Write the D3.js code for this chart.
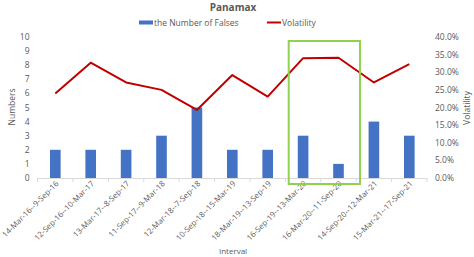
<!DOCTYPE html>
<html><head><meta charset="utf-8">
<script src="https://cdn.jsdelivr.net/npm/d3@7"></script>
<style>body{margin:0;background:#fff;}svg{display:block;font-family:"Open Sans","Noto Sans",sans-serif;}</style>
</head><body><svg id="c" width="474" height="257"></svg>
<script>
const categories = ["14-Mar-16--9-Sep-16","12-Sep-16--10-Mar-17","13-Mar-17--8-Sep-17","11-Sep-17--9-Mar-18","12-Mar-18--7-Sep-18","10-Sep-18--15-Mar-19","18-Mar-19--13-Sep-19","16-Sep-19--13-Mar-20","16-Mar-20--11-Sep-20","14-Sep-20--12-Mar-21","15-Mar-21--17-Sep-21"];
const falses = [2,2,2,3,5,2,2,3,1,4,3];
const volatility = [0.240,0.327,0.271,0.250,0.193,0.292,0.231,0.340,0.341,0.271,0.323];
const leftTicks = [0,1,2,3,4,5,6,7,8,9,10];
const rightTicks = [0,0.05,0.10,0.15,0.20,0.25,0.30,0.35,0.40];
const highlight = ["16-Sep-19--13-Mar-20","16-Mar-20--11-Sep-20"];

const svg = d3.select("#c");
const m = {l:37.6, r:427, t:37, b:178};
const x = d3.scaleBand().domain(categories).range([m.l, m.r]).paddingInner(0.7).paddingOuter(0.35);
const xc = d => x(d) + x.bandwidth()/2;
const yL = d3.scaleLinear().domain([0,10]).range([m.b, m.t]);
const yR = d3.scaleLinear().domain([0,0.40]).range([m.b, m.t]);
const txt = "#595959";

// title
svg.append("text").attr("x",233).attr("y",11).attr("text-anchor","middle")
  .attr("font-size",10).attr("font-weight","bold").attr("fill",txt).text("Panamax");

// legend
svg.append("rect").attr("x",139).attr("y",20.5).attr("width",14).attr("height",4).attr("fill","#4472C4");
svg.append("text").attr("x",154).attr("y",25.5).attr("font-size",8.5).attr("fill",txt).text("the Number of Falses");
svg.append("line").attr("x1",267).attr("x2",281).attr("y1",22.5).attr("y2",22.5).attr("stroke","#C00000").attr("stroke-width",2);
svg.append("text").attr("x",282).attr("y",25.5).attr("font-size",8.5).attr("fill",txt).text("Volatility");

// x axis
const step = x.step();
svg.append("line").attr("x1",m.l).attr("x2",m.r).attr("y1",m.b+0.5).attr("y2",m.b+0.5).attr("stroke","#d9d9d9");
const bounds = categories.map(c => xc(c) - step/2).concat([xc(categories[categories.length-1]) + step/2]);
svg.selectAll(".tk").data(bounds).join("line")
  .attr("x1",d=>d).attr("x2",d=>d).attr("y1",m.b).attr("y2",m.b+4).attr("stroke","#d9d9d9");

// left axis labels
svg.selectAll(".ly").data(leftTicks).join("text")
  .attr("x",29.5).attr("y",d=>yL(d)+3).attr("text-anchor","end").attr("font-size",8.5).attr("fill",txt).text(d=>d);
// right axis labels
svg.selectAll(".ry").data(rightTicks).join("text")
  .attr("x",435).attr("y",d=>yR(d)+3).attr("text-anchor","start").attr("font-size",8.5).attr("fill",txt).text(d=>d3.format(".1%")(d));

// axis titles
svg.append("text").attr("transform","translate(15,107) rotate(-90)").attr("text-anchor","middle")
  .attr("font-size",8.5).attr("fill",txt).text("Numbers");
svg.append("text").attr("transform","translate(470,108) rotate(-90)").attr("text-anchor","middle")
  .attr("font-size",8.5).attr("fill",txt).text("Volatility");
svg.append("text").attr("x",233).attr("y",254).attr("text-anchor","middle")
  .attr("font-size",8).attr("fill",txt).text("Interval");

// bars
svg.selectAll(".bar").data(categories).join("rect")
  .attr("x",d=>x(d)).attr("width",x.bandwidth())
  .attr("y",(d,i)=>yL(falses[i])).attr("height",(d,i)=>yL(0)-yL(falses[i]))
  .attr("fill","#4472C4");

// line
const line = d3.line().x((d,i)=>xc(categories[i])).y(d=>yR(d));
svg.append("path").datum(volatility).attr("d",line).attr("fill","none")
  .attr("stroke","#C00000").attr("stroke-width",2).attr("stroke-linejoin","round");

// x labels
svg.selectAll(".xl").data(categories).join("text")
  .attr("transform",d=>`translate(${xc(d)+4},${m.b+6}) rotate(-45)`)
  .attr("text-anchor","end").attr("font-size",7.8).attr("letter-spacing",0.1).attr("fill",txt).text(d=>d);

// highlight box
const hx0 = xc(highlight[0]) - 14.4, hx1 = xc(highlight[1]) + 21.5;
svg.append("rect").attr("x",hx0).attr("y",41).attr("width",hx1-hx0).attr("height",143)
  .attr("fill","none").attr("stroke","#92D050").attr("stroke-width",2);
</script></body></html>
